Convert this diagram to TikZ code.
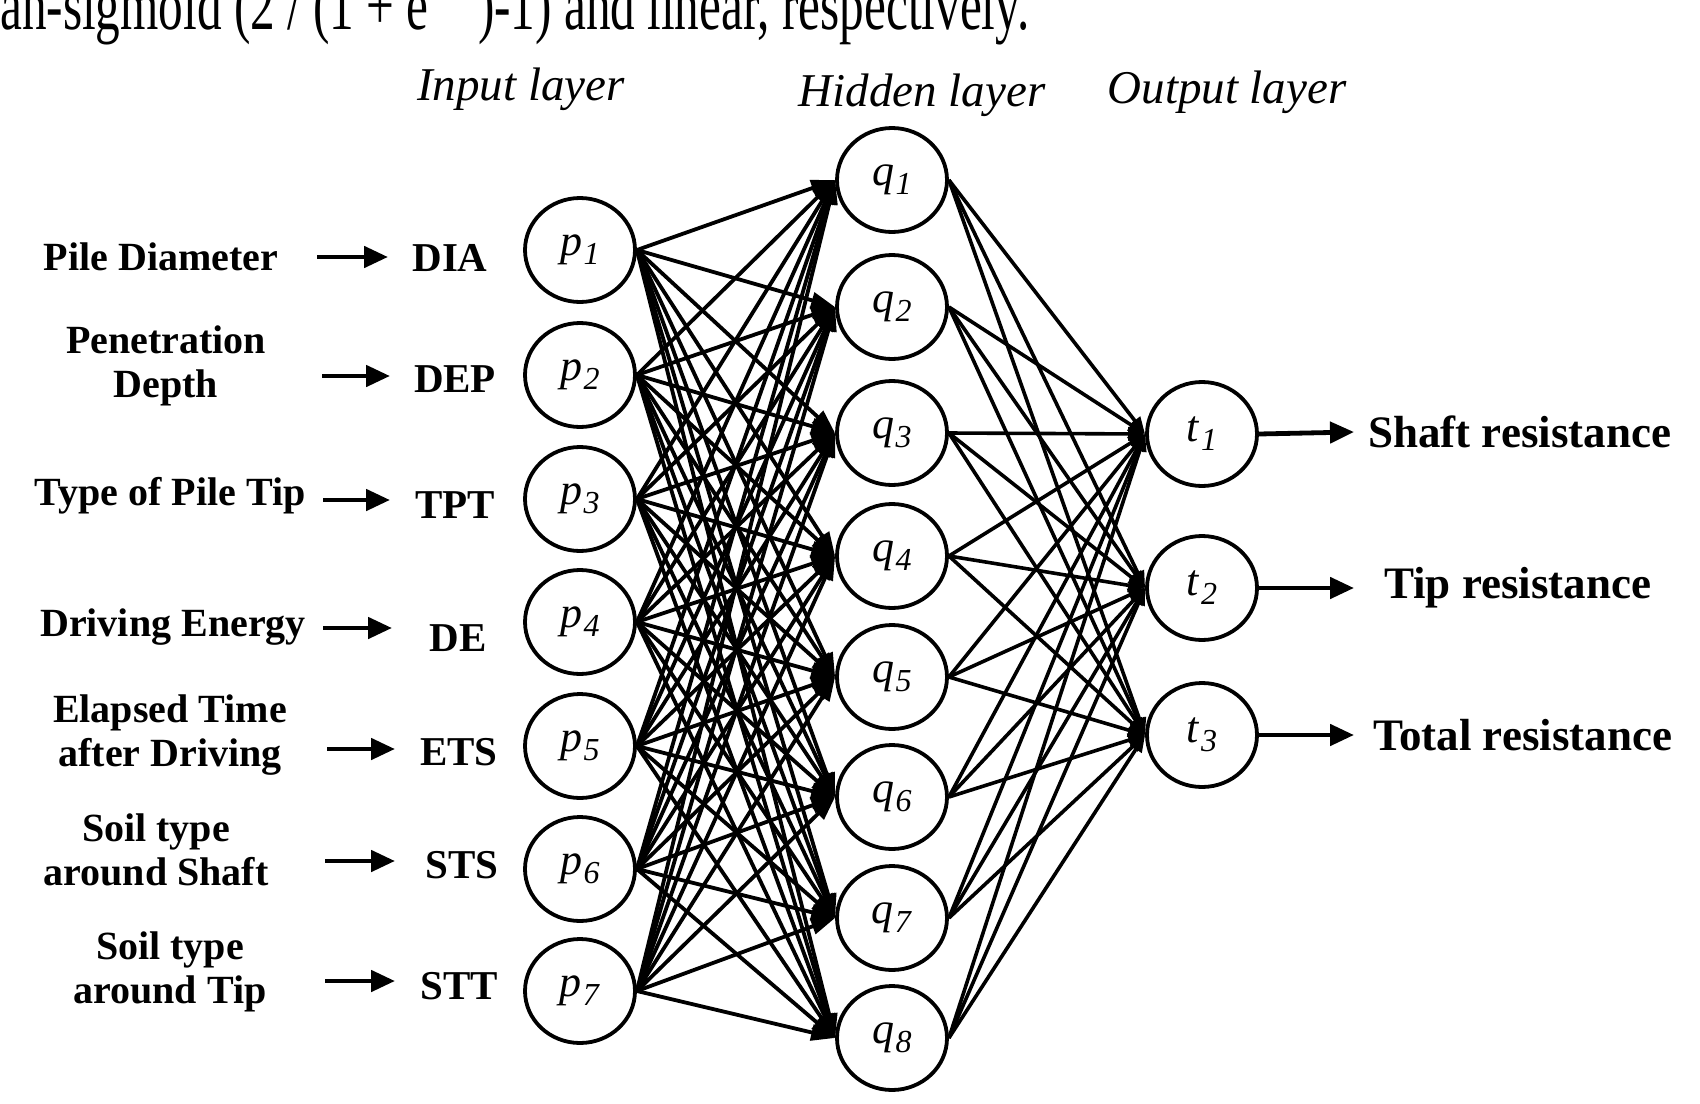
\documentclass[tikz,border=0pt]{standalone}
\usepackage{fontspec}
\setmainfont{Liberation Serif}
\usetikzlibrary{arrows.meta,shapes.geometric}
\newcommand\neurlab[2]{\textit{#1}\kern1pt\raisebox{-0.2em}{\fontsize{32}{32}\selectfont\textit{#2}}}
\tikzset{
  neuron/.style={draw, line width=3.8pt, ellipse, minimum width=110pt, minimum height=104pt, inner sep=0pt, font=\fontsize{44}{44}\selectfont},
  conn/.style={line width=3.8pt, -{Triangle[length=24pt,width=16pt]}},
  conn2/.style={line width=3.6pt, -{Triangle[length=17pt,width=13pt]}},
  inarrow/.style={line width=4.8pt, -{Triangle[length=24pt,width=21pt]}},
  lab/.style={font=\fontsize{40}{44}\selectfont\bfseries, align=center, inner sep=0pt},
  codelab/.style={font=\fontsize{41}{45}\selectfont\bfseries, inner sep=0pt},
  outlab/.style={font=\fontsize{45}{50}\selectfont\bfseries, inner sep=0pt, anchor=west},
  layertitle/.style={font=\fontsize{47}{50}\selectfont\itshape, inner sep=0pt},
}
\begin{document}
\begin{tikzpicture}[x=1pt,y=-1pt]
\fill[white] (0,0) rectangle (1700,1103);
\useasboundingbox (0,0) rectangle (1700,1103);

% cut-off caption line
\node[anchor=base west, inner sep=0pt, font=\fontsize{72}{74}\selectfont] (cap) at (0,29)
  {\scalebox{0.684}[1]{an-sigmoid (2 / (1 + e\hspace{72pt})-1) and linear, respectively.}};

% layer titles
\node[layertitle] (tin) at (521,89) {Input layer};
\node[layertitle] (thid) at (922,95) {Hidden layer};
\node[layertitle] (tout) at (1227,92) {Output layer};

% input neurons
\foreach \n/\y in {1/250,2/375,3/499,4/622,5/746,6/869,7/991}
  \node[neuron] (p\n) at (580,\y) {\neurlab{p}{\n}};
% hidden neurons
\foreach \n/\y in {1/180,2/307,3/433,4/556,5/677,6/797,7/918,8/1038}
  \node[neuron] (q\n) at (892,\y) {\neurlab{q}{\n}};
% output neurons
\foreach \n/\y in {1/434,2/588,3/735}
  \node[neuron] (t\n) at (1202,\y) {\neurlab{t}{\n}};

% connections
\foreach \i in {1,...,7}
  \foreach \j in {1,...,8}
    \draw[conn] (p\i.east) -- (q\j.west);
\foreach \j in {1,...,8}
  \foreach \k in {1,2,3}
    \draw[conn2] (q\j.east) -- (t\k.west);

% input labels
\node[lab] (l1) at (161,257) {Pile Diameter};
\node[lab] (l2) at (166,366) {Penetration\\Depth};
\node[lab] (l3) at (170,496) {Type of Pile Tip};
\node[lab] (l4) at (173,627) {Driving Energy};
\node[lab] (l5) at (170,735) {Elapsed Time\\after Driving};
\node[lab] (l6) at (156,850) {Soil type\\around Shaft};
\node[lab] (l7) at (170,972) {Soil type\\around Tip};

\node[codelab] (c1) at (450,258) {DIA};
\node[codelab] (c2) at (455,379) {DEP};
\node[codelab] (c3) at (455,505) {TPT};
\node[codelab] (c4) at (458,638) {DE};
\node[codelab] (c5) at (459,752) {ETS};
\node[codelab] (c6) at (462,865) {STS};
\node[codelab] (c7) at (459,986) {STT};

\foreach \n/\xs/\xe/\y in {1/317/388/257,2/322/390/376,3/323/390/500,4/323/392/628,5/327/395/749,6/325/395/861,7/325/395/981}{
  \coordinate (as\n) at (\xs,\y);
  \coordinate (ae\n) at (\xe,\y);
  \draw[inarrow] (as\n) -- (ae\n);
}

% outputs
\node[outlab] (o1) at (1368,432) {Shaft resistance};
\node[outlab] (o2) at (1384,588) {Tip resistance};
\node[outlab] (o3) at (1373,735) {Total resistance};
\foreach \n/\y in {1/432,2/588,3/735}{
  \coordinate (oe\n) at (1354,\y);
  \draw[inarrow] (t\n.east) -- (oe\n);
}
\end{tikzpicture}
\end{document}
